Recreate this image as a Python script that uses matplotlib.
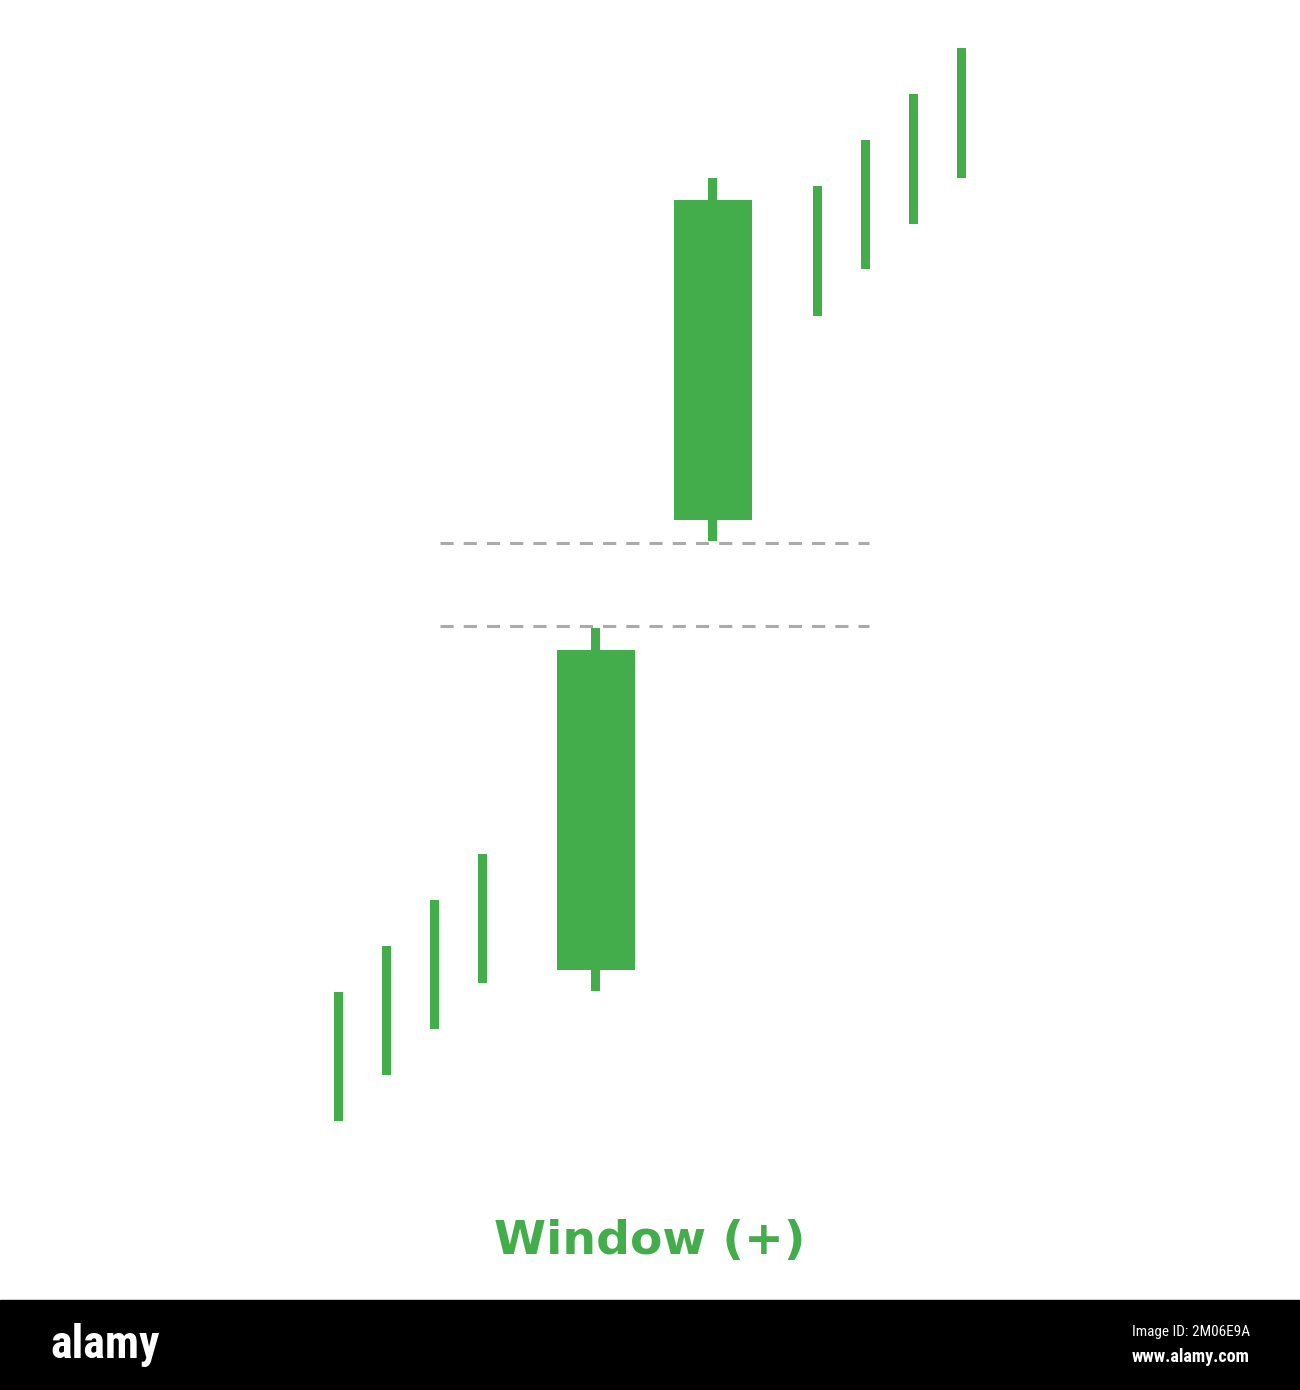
import matplotlib
matplotlib.use("Agg")
import matplotlib.pyplot as plt
from matplotlib.patches import Rectangle
from matplotlib import font_manager

# candle data (arbitrary price units), thin bars have no body
xpos = [0, 1, 2, 3, 5.36, 7.80, 9.97, 10.97, 11.97, 12.98]
highs = [14.8, 19.4, 24.0, 28.6, 51.2, 96.2, 95.4, 100.0, 104.6, 109.2]
lows = [1.9, 6.5, 11.1, 15.7, 14.9, 59.9, 82.4, 87.1, 91.6, 96.2]
opens = [None, None, None, None, 17.0, 62.0, None, None, None, None]
closes = [None, None, None, None, 49.0, 94.0, None, None, None, None]

title = "Window (+)"
green = "#42ad4a"

fig = plt.figure(figsize=(13, 13.9), dpi=100)
ax = fig.add_axes([0, 0, 1, 1])
ax.set_xlim(-7.052, 20.031)
ax.set_ylim(-25, 114)
ax.axis("off")

wick_w = 0.19
body_w = 1.625
for x, h, l, o, c in zip(xpos, highs, lows, opens, closes):
    ax.bar(x, h - l, bottom=l, width=wick_w, color=green, linewidth=0)
    if o is not None:
        ax.bar(x, c - o, bottom=o, width=body_w, color=green, linewidth=0)

# the window (gap) between candle 5 high and candle 6 low
gap_top = lows[5] - 0.2
gap_bot = highs[4] + 0.2
for yv in (gap_top, gap_bot):
    ax.plot([2.12, 11.05], [yv, yv], color="#aaaaaa", lw=2.2,
            dashes=(4.3, 3.3), zorder=0)

ax.text(6.49, -10.1, title, color=green, fontsize=34, fontweight="bold",
        ha="center", va="center", family="DejaVu Sans")

# bottom band
fig.patches.append(Rectangle((0, 0), 1, 90 / 1390, transform=fig.transFigure,
                             color="black", zorder=5))

avail = {f.name for f in font_manager.fontManager.ttflist}
cond = "DejaVu Sans"
for name in ["Liberation Sans Narrow", "DejaVu Sans Condensed", "Roboto Condensed"]:
    if name in avail:
        cond = name
        break

fig.text(50 / 1300, 1 - 1345 / 1390, "alamy", color="white", fontsize=33,
         fontweight="bold", family=cond, ha="left", va="center", zorder=6)
fig.text(1250 / 1300, 1 - 1332 / 1390, "Image ID: 2M06E9A", color="white",
         fontsize=11, family=cond, ha="right", va="center", zorder=6)
fig.text(1250 / 1300, 1 - 1357 / 1390, "www.alamy.com", color="white",
         fontsize=13, fontweight="bold", family=cond, ha="right", va="center",
         zorder=6)

fig.savefig("out.png", dpi=100, facecolor="white")
